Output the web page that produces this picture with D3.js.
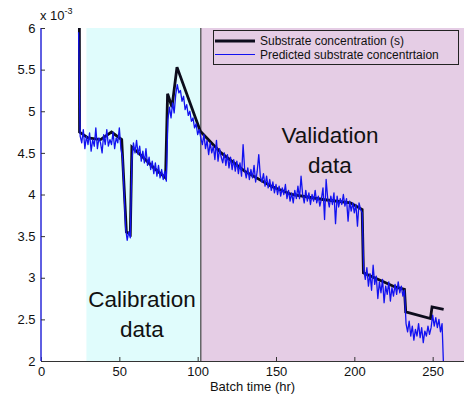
<!DOCTYPE html>
<html>
<head>
<meta charset="utf-8">
<script src="https://cdn.jsdelivr.net/npm/d3@7"></script>
<style>
  body { margin: 0; background: #fff; }
  text { font-family: "Liberation Sans", Arial, sans-serif; fill: #111; }
</style>
</head>
<body>
<script>
'use strict';

// measured substrate (black), waypoints [hour, value x 1e-3]
const measuredHours = [24.5, 24.6, 30, 38, 45, 51.5, 54.5, 57, 58, 65, 72, 79.5, 80.8, 83.6, 86.8,
  101.7, 115, 130, 147, 160, 180, 197.5, 205, 205.8, 226, 232, 232.8, 248.6, 249.6, 257];
const measuredValues = [6.0, 4.75, 4.68, 4.66, 4.75, 4.66, 3.55, 3.52, 4.57, 4.45, 4.32, 4.2, 5.21, 5.05, 5.53,
  4.76, 4.5, 4.28, 4.1, 4.0, 3.94, 3.9, 3.82, 3.06, 2.89, 2.86, 2.59, 2.51, 2.65, 2.62];

// predicted substrate (blue), one sample per hour from hour 24
const predStartHour = 24;
const predValues = [
  5.95, 4.70, 4.62, 4.78, 4.55, 4.70, 4.60, 4.74, 4.52, 4.66,   // 24
  4.58, 4.80, 4.55, 4.68, 4.62, 4.50, 4.72, 4.60, 4.78, 4.58,   // 34
  4.66, 4.60, 4.75, 4.55, 4.68, 4.62, 4.80, 4.55, 4.45, 4.05,   // 44
  3.60, 3.45, 3.55, 3.48, 4.40, 4.62, 4.50, 4.65, 4.48, 4.58,   // 54
  4.40, 4.52, 4.38, 4.55, 4.35, 4.45, 4.30, 4.40, 4.25, 4.38,   // 64
  4.22, 4.35, 4.20, 4.30, 4.18, 4.28, 4.16, 4.90, 5.05, 4.92,   // 74
  5.10, 4.98, 5.20, 5.32, 5.22, 5.25, 5.12, 5.18, 5.02, 5.08,   // 84
  4.95, 5.00, 4.88, 4.92, 4.80, 4.85, 4.72, 4.78, 4.68, 4.60,   // 94
  4.72, 4.55, 4.65, 4.48, 4.62, 4.50, 4.58, 4.42, 4.65, 4.40,   // 104
  4.55, 4.45, 4.38, 4.50, 4.35, 4.48, 4.32, 4.45, 4.30, 4.42,   // 114
  4.28, 4.40, 4.25, 4.38, 4.22, 4.60, 4.30, 4.20, 4.32, 4.18,   // 124
  4.30, 4.20, 4.35, 4.15, 4.28, 4.48, 4.22, 4.15, 4.25, 4.10,   // 134
  4.22, 4.08, 4.18, 4.05, 4.15, 4.02, 4.12, 4.00, 4.10, 3.98,   // 144
  4.08, 4.00, 4.12, 3.95, 4.05, 3.92, 4.02, 3.90, 4.05, 3.95,   // 154
  4.10, 3.95, 4.22, 4.00, 3.90, 4.05, 3.92, 4.02, 3.88, 4.00,   // 164
  3.92, 4.05, 3.90, 3.98, 3.86, 3.95, 4.08, 3.70, 4.18, 3.95,   // 174
  3.85, 3.98, 3.88, 4.02, 3.65, 3.98, 3.85, 3.95, 3.88, 4.00,   // 184
  3.86, 3.95, 3.68, 3.92, 3.80, 3.90, 3.78, 3.88, 3.62, 3.90,   // 194
  3.82, 3.78, 3.10, 2.98, 3.12, 2.90, 3.05, 2.85, 3.15, 2.92,   // 204
  3.02, 2.75, 2.95, 2.82, 2.98, 2.70, 2.90, 2.80, 2.95, 2.72,   // 214
  2.88, 2.78, 2.92, 2.80, 2.95, 2.82, 2.90, 2.78, 2.85, 2.45,   // 224
  2.35, 2.48, 2.30, 2.42, 2.25, 2.38, 2.30, 2.45, 2.28, 2.40,   // 234
  2.22, 2.36, 2.30, 2.42, 2.32, 2.40, 2.55, 2.42, 2.52, 2.40,   // 244
  2.50, 2.35, 2.45, 1.90                                        // 254
];

// shaded regions [from, to]
const calibrationSpan = [29, 102];
const validationSpan = [102, 270];

const xTicks = [0, 50, 100, 150, 200, 250];
const yTicks = [2, 2.5, 3, 3.5, 4, 4.5, 5, 5.5, 6];

const legendLabels = ['Substrate concentration (s)', 'Predicted substrate concentrtaion'];

(function() {
  let svg;
  const left = 41, right = 464, top = 28, bottom = 361;

  window.onload = function() {
    svg = d3.select('body').append('svg')
      .attr('width', 474)
      .attr('height', 397);

    const x = d3.scaleLinear().domain([0, 270]).range([left, right]);
    const y = d3.scaleLinear().domain([2, 6]).range([bottom, top]);

    // background regions
    svg.append('rect')
      .attr('x', x(calibrationSpan[0])).attr('y', top)
      .attr('width', x(calibrationSpan[1]) - x(calibrationSpan[0]))
      .attr('height', bottom - top)
      .attr('fill', '#e0fcfc');
    svg.append('rect')
      .attr('x', x(validationSpan[0])).attr('y', top)
      .attr('width', x(validationSpan[1]) - x(validationSpan[0]))
      .attr('height', bottom - top)
      .attr('fill', '#e5cde5');

    // divider
    svg.append('line')
      .attr('x1', x(validationSpan[0])).attr('x2', x(validationSpan[0]))
      .attr('y1', top).attr('y2', bottom)
      .attr('stroke', '#444').attr('stroke-width', 1.2);

    svg.append('clipPath').attr('id', 'plotclip')
      .append('rect')
      .attr('x', left).attr('y', top - 1)
      .attr('width', right - left).attr('height', bottom - top + 1);

    const line = d3.line()
      .x((d) => x(d[0]))
      .y((d) => y(d[1]));

    const measured = measuredHours.map((h, i) => [h, measuredValues[i]]);
    const predicted = predValues.map((v, i) => [predStartHour + i, v]);

    const plot = svg.append('g').attr('clip-path', 'url(#plotclip)');
    plot.append('path')
      .datum(measured)
      .attr('d', line)
      .attr('fill', 'none')
      .attr('stroke', '#0c0c1c')
      .attr('stroke-width', 2.8);
    plot.append('path')
      .datum(predicted)
      .attr('d', line)
      .attr('fill', 'none')
      .attr('stroke', '#1212f0')
      .attr('stroke-width', 1.3)
      .attr('stroke-linejoin', 'round');

    // axes, MATLAB style ticks pointing inward
    const xAxis = d3.axisBottom(x).tickValues(xTicks).tickSize(-4).tickPadding(6)
      .tickFormat(d3.format('d'));
    const gx = svg.append('g')
      .attr('transform', 'translate(0,' + bottom + ')')
      .call(xAxis);
    gx.select('.domain').attr('stroke', '#333').attr('d', 'M' + left + ',0.5H' + right);
    gx.selectAll('.tick line').attr('stroke', '#333');
    gx.selectAll('text').style('font-size', '13px').attr('fill', '#111');

    const yAxis = d3.axisLeft(y).tickValues(yTicks).tickSize(-4).tickPadding(5.5)
      .tickFormat(d3.format('~g'));
    const gy = svg.append('g')
      .attr('transform', 'translate(' + left + ',0)')
      .call(yAxis);
    gy.select('.domain').attr('stroke', '#2a2ad8').attr('stroke-width', 1.5)
      .attr('d', 'M0,' + top + 'V' + bottom);
    gy.selectAll('.tick line').attr('stroke', '#333');
    gy.selectAll('text').style('font-size', '13px').attr('fill', '#111');

    // exponent label
    const exp = svg.append('text').attr('x', 40).attr('y', 20).style('font-size', '13px');
    exp.append('tspan').text('x 10');
    exp.append('tspan').attr('dy', -6).style('font-size', '9px').text('-3');

    svg.append('text')
      .attr('x', (left + right) / 2).attr('y', 391)
      .attr('text-anchor', 'middle')
      .style('font-size', '13px')
      .text('Batch time (hr)');

    // region labels
    const calib = svg.append('text').attr('text-anchor', 'middle').style('font-size', '22.5px');
    calib.append('tspan').attr('x', 142).attr('y', 307).text('Calibration');
    calib.append('tspan').attr('x', 142).attr('y', 337).text('data');
    const valid = svg.append('text').attr('text-anchor', 'middle').style('font-size', '22.5px');
    valid.append('tspan').attr('x', 330).attr('y', 143).text('Validation');
    valid.append('tspan').attr('x', 330).attr('y', 173).text('data');

    // legend
    const lg = svg.append('g');
    lg.append('rect')
      .attr('x', 213.5).attr('y', 30.5).attr('width', 245).attr('height', 34)
      .attr('fill', 'none').attr('stroke', '#222').attr('stroke-width', 1);
    const styles = [{ c: '#0c0c1c', w: 2.8 }, { c: '#1212f0', w: 1.1 }];
    legendLabels.forEach((lab, i) => {
      const ly = 41 + i * 13.5;
      lg.append('line')
        .attr('x1', 215).attr('x2', 255).attr('y1', ly).attr('y2', ly)
        .attr('stroke', styles[i].c).attr('stroke-width', styles[i].w);
      lg.append('text')
        .attr('x', 260).attr('y', ly + 4.2)
        .style('font-size', '12px')
        .text(lab);
    });
  };
})();
</script>
</body>
</html>
